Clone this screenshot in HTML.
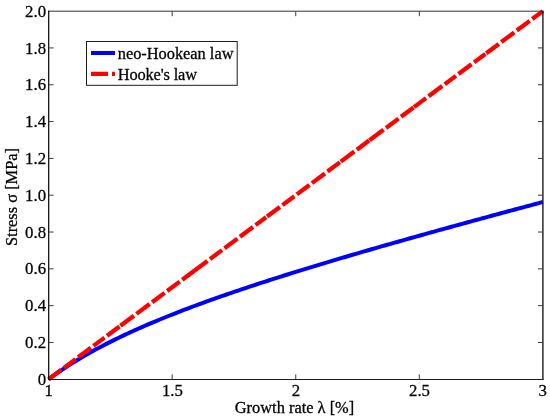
<!DOCTYPE html>
<html><head><meta charset="utf-8"><title>Stress vs growth rate</title>
<style>
html,body{margin:0;padding:0;background:#fff;}
body{width:550px;height:420px;overflow:hidden;}
svg{display:block;}
text{font-family:"Liberation Serif","Times New Roman",serif;font-size:16.4px;fill:#000;stroke:#000;stroke-width:0.28px;}
.t{font-size:16.8px;}
</style></head><body>
<svg width="550" height="420" viewBox="0 0 550 420">
<rect x="0" y="0" width="550" height="420" fill="#fff"/>
<polyline points="48.60,379.30 51.07,377.48 53.54,375.69 56.01,373.94 58.49,372.22 60.96,370.53 63.43,368.87 65.90,367.24 68.37,365.64 70.84,364.06 73.32,362.51 75.79,360.99 78.26,359.49 80.73,358.01 83.20,356.56 85.67,355.13 88.14,353.72 90.62,352.33 93.09,350.96 95.56,349.61 98.03,348.28 100.50,346.96 102.97,345.66 105.44,344.38 107.92,343.12 110.39,341.87 112.86,340.63 115.33,339.41 117.80,338.21 120.27,337.01 122.75,335.83 125.22,334.67 127.69,333.52 130.16,332.37 132.63,331.24 135.10,330.13 137.57,329.02 140.05,327.92 142.52,326.84 144.99,325.76 147.46,324.70 149.93,323.64 152.40,322.59 154.87,321.56 157.35,320.53 159.82,319.51 162.29,318.49 164.76,317.49 167.23,316.49 169.70,315.51 172.17,314.52 174.65,313.55 177.12,312.58 179.59,311.62 182.06,310.67 184.53,309.72 187.00,308.78 189.48,307.85 191.95,306.92 194.42,306.00 196.89,305.08 199.36,304.17 201.83,303.27 204.30,302.37 206.78,301.47 209.25,300.59 211.72,299.70 214.19,298.82 216.66,297.95 219.13,297.08 221.61,296.21 224.08,295.35 226.55,294.49 229.02,293.64 231.49,292.79 233.96,291.95 236.43,291.11 238.91,290.27 241.38,289.44 243.85,288.61 246.32,287.78 248.79,286.96 251.26,286.14 253.73,285.32 256.21,284.51 258.68,283.70 261.15,282.90 263.62,282.09 266.09,281.29 268.56,280.50 271.03,279.70 273.51,278.91 275.98,278.12 278.45,277.34 280.92,276.55 283.39,275.77 285.86,275.00 288.34,274.22 290.81,273.45 293.28,272.68 295.75,271.91 298.22,271.14 300.69,270.38 303.16,269.62 305.64,268.86 308.11,268.10 310.58,267.35 313.05,266.59 315.52,265.84 317.99,265.09 320.47,264.35 322.94,263.60 325.41,262.86 327.88,262.12 330.35,261.38 332.82,260.64 335.29,259.90 337.77,259.17 340.24,258.43 342.71,257.70 345.18,256.97 347.65,256.24 350.12,255.52 352.59,254.79 355.07,254.07 357.54,253.35 360.01,252.63 362.48,251.91 364.95,251.19 367.42,250.47 369.89,249.76 372.37,249.04 374.84,248.33 377.31,247.62 379.78,246.91 382.25,246.20 384.72,245.49 387.20,244.79 389.67,244.08 392.14,243.38 394.61,242.67 397.08,241.97 399.55,241.27 402.02,240.57 404.50,239.87 406.97,239.18 409.44,238.48 411.91,237.78 414.38,237.09 416.85,236.39 419.32,235.70 421.80,235.01 424.27,234.32 426.74,233.63 429.21,232.94 431.68,232.25 434.15,231.57 436.63,230.88 439.10,230.19 441.57,229.51 444.04,228.82 446.51,228.14 448.98,227.46 451.45,226.78 453.93,226.10 456.40,225.42 458.87,224.74 461.34,224.06 463.81,223.38 466.28,222.70 468.76,222.03 471.23,221.35 473.70,220.68 476.17,220.00 478.64,219.33 481.11,218.66 483.58,217.98 486.06,217.31 488.53,216.64 491.00,215.97 493.47,215.30 495.94,214.63 498.41,213.96 500.88,213.29 503.36,212.63 505.83,211.96 508.30,211.29 510.77,210.63 513.24,209.96 515.71,209.30 518.19,208.63 520.66,207.97 523.13,207.31 525.60,206.64 528.07,205.98 530.54,205.32 533.01,204.66 535.49,204.00 537.96,203.34 540.43,202.68 542.90,202.02" fill="none" stroke="#0000ff" stroke-width="4" stroke-linejoin="round"/>
<path d="M48.60 379.30L61.35 369.80 M63.85 367.94L75.65 359.15 M78.15 357.29L90.95 347.75 M93.45 345.89L104.55 337.62 M107.05 335.76L119.50 326.49 M120.50 325.74L133.95 315.72 M136.45 313.86L149.65 304.03 M152.15 302.17L164.65 292.86 M167.15 290.99L179.75 281.61 M182.25 279.75L207.45 260.97 M209.95 259.11L222.05 250.10 M224.55 248.24L237.45 238.63 M239.95 236.76L253.05 227.01 M255.55 225.14L266.10 217.29 M267.10 216.54L279.95 206.97 M282.45 205.11L294.35 196.24 M296.85 194.38L309.45 184.99 M311.95 183.13L324.95 173.45 M327.45 171.59L339.80 162.39 M340.80 161.64L354.35 151.55 M356.85 149.69L369.07 140.58 M369.53 140.25L383.55 129.80 M386.05 127.94L398.55 118.63 M401.05 116.76L413.57 107.43 M414.03 107.10L426.05 98.14 M428.55 96.28L442.25 86.07 M444.75 84.21L455.95 75.87 M458.45 74.01L471.55 64.25 M474.05 62.39L485.30 54.01 M486.30 53.26L498.85 43.91 M501.35 42.05L514.25 32.44 M516.75 30.58L529.75 20.90 M532.25 19.03L542.90 11.10" fill="none" stroke="#ff0000" stroke-width="4.3"/>
<line x1="48.1" y1="11.2" x2="543.5" y2="11.2" stroke="#333" stroke-width="1"/>
<line x1="48.1" y1="379.4" x2="543.5" y2="379.4" stroke="#1c1c1c" stroke-width="1.05"/>
<line x1="48.7" y1="10.7" x2="48.7" y2="379.9" stroke="#000" stroke-width="1.2"/>
<line x1="542.9" y1="10.7" x2="542.9" y2="379.9" stroke="#1c1c1c" stroke-width="1.4"/>

<text class="t" x="48.80" y="396" text-anchor="middle">1</text>
<line x1="172.17" y1="379.4" x2="172.17" y2="374.4" stroke="#3a3a3a" stroke-width="1"/>
<line x1="172.17" y1="11.2" x2="172.17" y2="16.2" stroke="#3a3a3a" stroke-width="1"/>
<text class="t" x="172.37" y="396" text-anchor="middle">1.5</text>
<line x1="295.75" y1="379.4" x2="295.75" y2="374.4" stroke="#3a3a3a" stroke-width="1"/>
<line x1="295.75" y1="11.2" x2="295.75" y2="16.2" stroke="#3a3a3a" stroke-width="1"/>
<text class="t" x="295.95" y="396" text-anchor="middle">2</text>
<line x1="419.32" y1="379.4" x2="419.32" y2="374.4" stroke="#3a3a3a" stroke-width="1"/>
<line x1="419.32" y1="11.2" x2="419.32" y2="16.2" stroke="#3a3a3a" stroke-width="1"/>
<text class="t" x="419.52" y="396" text-anchor="middle">2.5</text>
<text class="t" x="542.80" y="396" text-anchor="middle">3</text>
<text class="t" x="46.1" y="384.9" text-anchor="end">0</text>
<line x1="48.6" y1="342.48" x2="53.6" y2="342.48" stroke="#3a3a3a" stroke-width="1"/>
<line x1="542.9" y1="342.48" x2="537.9" y2="342.48" stroke="#3a3a3a" stroke-width="1"/>
<text class="t" x="46.1" y="348.1" text-anchor="end">0.2</text>
<line x1="48.6" y1="305.66" x2="53.6" y2="305.66" stroke="#3a3a3a" stroke-width="1"/>
<line x1="542.9" y1="305.66" x2="537.9" y2="305.66" stroke="#3a3a3a" stroke-width="1"/>
<text class="t" x="46.1" y="311.3" text-anchor="end">0.4</text>
<line x1="48.6" y1="268.84" x2="53.6" y2="268.84" stroke="#3a3a3a" stroke-width="1"/>
<line x1="542.9" y1="268.84" x2="537.9" y2="268.84" stroke="#3a3a3a" stroke-width="1"/>
<text class="t" x="46.1" y="274.4" text-anchor="end">0.6</text>
<line x1="48.6" y1="232.02" x2="53.6" y2="232.02" stroke="#3a3a3a" stroke-width="1"/>
<line x1="542.9" y1="232.02" x2="537.9" y2="232.02" stroke="#3a3a3a" stroke-width="1"/>
<text class="t" x="46.1" y="237.6" text-anchor="end">0.8</text>
<line x1="48.6" y1="195.20" x2="53.6" y2="195.20" stroke="#3a3a3a" stroke-width="1"/>
<line x1="542.9" y1="195.20" x2="537.9" y2="195.20" stroke="#3a3a3a" stroke-width="1"/>
<text class="t" x="46.1" y="200.8" text-anchor="end">1.0</text>
<line x1="48.6" y1="158.38" x2="53.6" y2="158.38" stroke="#3a3a3a" stroke-width="1"/>
<line x1="542.9" y1="158.38" x2="537.9" y2="158.38" stroke="#3a3a3a" stroke-width="1"/>
<text class="t" x="46.1" y="164.0" text-anchor="end">1.2</text>
<line x1="48.6" y1="121.56" x2="53.6" y2="121.56" stroke="#3a3a3a" stroke-width="1"/>
<line x1="542.9" y1="121.56" x2="537.9" y2="121.56" stroke="#3a3a3a" stroke-width="1"/>
<text class="t" x="46.1" y="127.2" text-anchor="end">1.4</text>
<line x1="48.6" y1="84.74" x2="53.6" y2="84.74" stroke="#3a3a3a" stroke-width="1"/>
<line x1="542.9" y1="84.74" x2="537.9" y2="84.74" stroke="#3a3a3a" stroke-width="1"/>
<text class="t" x="46.1" y="90.3" text-anchor="end">1.6</text>
<line x1="48.6" y1="47.92" x2="53.6" y2="47.92" stroke="#3a3a3a" stroke-width="1"/>
<line x1="542.9" y1="47.92" x2="537.9" y2="47.92" stroke="#3a3a3a" stroke-width="1"/>
<text class="t" x="46.1" y="53.5" text-anchor="end">1.8</text>
<text class="t" x="46.1" y="16.7" text-anchor="end">2.0</text>
<text x="294.5" y="413" text-anchor="middle">Growth rate λ [%]</text>
<text transform="translate(17.3,197) rotate(-90)" text-anchor="middle">Stress σ [MPa]</text>
<rect x="86.5" y="41.5" width="150.7" height="43.8" fill="#fff" stroke="#1c1c1c" stroke-width="1"/>
<line x1="91" y1="53" x2="115" y2="53" stroke="#0000ff" stroke-width="4"/>
<line x1="91" y1="73.8" x2="115" y2="73.8" stroke="#ff0000" stroke-width="4.2" stroke-dasharray="17 4"/>
<text x="117.700" y="58.5" textLength="115.8">neo-Hookean law</text>
<text x="117.700" y="79.8" textLength="79.4">Hooke's law</text>
</svg></body></html>
